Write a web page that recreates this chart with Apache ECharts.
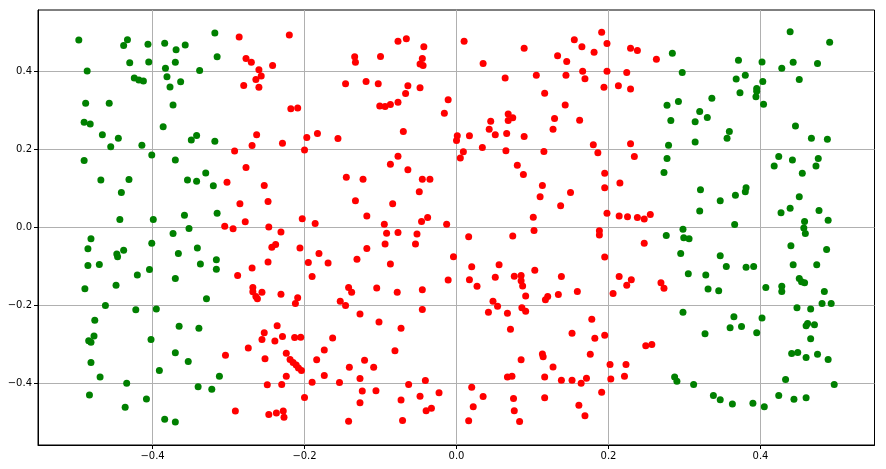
<!DOCTYPE html>
<html>
<head>
<meta charset="utf-8">
<script src="https://cdn.jsdelivr.net/npm/echarts@6/dist/echarts.min.js"></script>
<style>html,body{margin:0;padding:0;background:#fff;}#chart{width:886px;height:469px;}</style>
</head>
<body>
<div id="chart"></div>
<script>
const xTicks = [-0.4, -0.2, 0.0, 0.2, 0.4];
const yTicks = [-0.4, -0.2, 0.0, 0.2, 0.4];

const greenPoints = [
[-0.497,0.479],[-0.433,0.480],[-0.438,0.465],[-0.406,0.468],[-0.384,0.471],[-0.357,0.466],[-0.369,0.454],[-0.318,0.497],[-0.315,0.436],[-0.430,0.421],[-0.405,0.423],[-0.370,0.422],[-0.383,0.407],[-0.486,0.400],[-0.338,0.401],[-0.424,0.382],[-0.418,0.377],[-0.412,0.374],[-0.381,0.385],[-0.363,0.372],[-0.377,0.359],[-0.488,0.317],[-0.457,0.317],[-0.373,0.313],[-0.490,0.269],[-0.482,0.264],[-0.386,0.257],[-0.466,0.237],[-0.445,0.228],[-0.342,0.235],[-0.349,0.223],[-0.318,0.220],[-0.455,0.206],[-0.414,0.210],
[0.284,0.445],[0.297,0.396],[0.439,0.500],[0.491,0.473],[0.371,0.427],[0.402,0.423],[0.428,0.407],[0.443,0.422],[0.475,0.419],[0.380,0.389],[0.368,0.379],[0.403,0.373],[0.451,0.378],[0.395,0.355],[0.395,0.348],[0.394,0.334],[0.373,0.344],[0.404,0.315],[0.336,0.330],[0.292,0.322],[0.277,0.312],[0.320,0.296],[0.330,0.281],[0.314,0.270],[0.282,0.273],[0.359,0.245],[0.356,0.228],[0.446,0.259],[0.467,0.228],[0.488,0.225],[0.314,0.218],[0.279,0.210],
[-0.401,0.185],[-0.490,0.171],[-0.370,0.172],[-0.468,0.121],[-0.431,0.122],[-0.441,0.089],[-0.354,0.121],[-0.342,0.118],[-0.330,0.139],[-0.320,0.106],[-0.443,0.020],[-0.399,0.020],[-0.358,0.031],[-0.315,0.036],[-0.352,-0.003],[-0.373,-0.016],[-0.481,-0.029],[-0.485,-0.055],[-0.401,-0.041],[-0.447,-0.068],[-0.446,-0.075],[-0.438,-0.059],[-0.341,-0.053],[-0.366,-0.067],[-0.485,-0.098],[-0.470,-0.095],[-0.337,-0.094],[-0.316,-0.083],[-0.316,-0.107],[-0.404,-0.108],[-0.420,-0.122],[-0.370,-0.131],[-0.489,-0.157],[-0.448,-0.148],
[0.277,0.176],[0.273,0.140],[0.321,0.096],[0.347,0.068],[0.367,0.082],[0.381,0.101],[0.380,0.091],[0.320,0.042],[0.366,0.007],[0.298,-0.005],[0.276,-0.021],[0.299,-0.027],[0.306,-0.029],[0.295,-0.067],[0.347,-0.073],[0.355,-0.100],[0.381,-0.102],[0.391,-0.100],[0.305,-0.119],[0.328,-0.122],[0.331,-0.158],[0.345,-0.162],[0.424,0.181],[0.442,0.172],[0.476,0.176],[0.418,0.157],[0.473,0.157],[0.455,0.138],[0.451,0.078],[0.439,0.049],[0.427,0.037],[0.477,0.043],[0.489,0.018],[0.458,0.015],[0.457,-0.002],[0.459,-0.016],[0.440,-0.047],[0.487,-0.057],[0.443,-0.096],[0.474,-0.096],[0.451,-0.131],[0.454,-0.139],[0.458,-0.142],[0.407,-0.154],[0.428,-0.151],[0.428,-0.164],[0.484,-0.164],
[-0.329,-0.183],[-0.462,-0.200],[-0.422,-0.211],[-0.395,-0.209],[-0.476,-0.238],[-0.365,-0.253],[-0.339,-0.258],[-0.477,-0.278],[-0.484,-0.290],[-0.481,-0.294],[-0.402,-0.287],[-0.370,-0.321],[-0.353,-0.343],[-0.481,-0.346],[-0.391,-0.366],[-0.469,-0.383],[-0.434,-0.399],[-0.312,-0.381],[-0.340,-0.408],[-0.322,-0.414],[-0.483,-0.429],[-0.408,-0.439],[-0.436,-0.460],[-0.384,-0.491],[-0.370,-0.498],
[0.298,-0.217],[0.365,-0.229],[0.360,-0.257],[0.375,-0.254],[0.402,-0.232],[0.395,-0.270],[0.327,-0.272],[0.448,-0.206],[0.466,-0.209],[0.481,-0.195],[0.493,-0.195],[0.462,-0.246],[0.460,-0.252],[0.471,-0.249],[0.466,-0.285],[0.441,-0.323],[0.449,-0.320],[0.460,-0.333],[0.475,-0.325],[0.489,-0.338],[0.287,-0.383],[0.290,-0.394],[0.312,-0.402],[0.433,-0.389],[0.497,-0.402],[0.338,-0.430],[0.347,-0.441],[0.363,-0.452],[0.390,-0.450],[0.405,-0.459],[0.424,-0.430],[0.444,-0.440],[0.460,-0.436]
];

const redPoints = [
[-0.286,0.487],[-0.280,0.363],[-0.292,0.195],
[-0.220,0.492],[-0.277,0.432],[-0.270,0.422],[-0.242,0.414],[-0.260,0.403],[-0.257,0.387],[-0.264,0.378],[-0.260,0.358],[-0.218,0.303],[-0.209,0.305],[-0.263,0.237],[-0.269,0.209],[-0.229,0.215],[-0.197,0.230],[-0.183,0.240],[-0.156,0.227],[-0.200,0.198],[-0.134,0.436],[-0.133,0.422],[-0.100,0.437],[-0.077,0.476],[-0.066,0.482],[-0.043,0.462],[-0.045,0.432],[-0.048,0.418],[-0.044,0.414],[-0.146,0.367],[-0.119,0.373],[-0.103,0.367],[-0.064,0.362],[-0.067,0.342],[-0.048,0.357],[-0.101,0.310],[-0.094,0.309],[-0.087,0.314],[-0.077,0.320],[-0.070,0.245],[-0.016,0.292],
[-0.011,0.326],[0.010,0.476],[0.035,0.419],[0.089,0.458],[0.064,0.382],[0.105,0.389],[0.116,0.343],[0.133,0.439],[0.145,0.424],[0.155,0.480],[0.165,0.462],[0.181,0.448],[0.191,0.499],[0.198,0.470],[0.166,0.399],[0.169,0.380],[0.144,0.389],[0.198,0.399],[0.224,0.396],[0.194,0.358],[0.213,0.362],[0.229,0.354],[0.229,0.458],[0.238,0.452],[0.143,0.313],[0.129,0.278],[0.162,0.274],[0.127,0.251],[0.068,0.290],[0.068,0.273],[0.074,0.280],[0.045,0.271],[0.043,0.251],[0.051,0.237],[0.066,0.240],[0.089,0.232],[0.001,0.234],[0.000,0.222],[0.017,0.234],[0.034,0.204],[0.009,0.193],[0.065,0.196],[0.115,0.194],[0.180,0.211],[0.186,0.191],[0.229,0.214],
[0.263,0.430],
[-0.302,0.115],[-0.285,0.060],[-0.305,0.003],[-0.294,-0.004],[-0.288,-0.123],
[-0.277,0.153],[-0.253,0.107],[-0.248,0.066],[-0.278,0.014],[-0.247,0.001],[-0.231,-0.012],[-0.203,0.022],[-0.186,0.010],[-0.243,-0.051],[-0.238,-0.044],[-0.206,-0.053],[-0.181,-0.067],[-0.248,-0.089],[-0.269,-0.104],[-0.195,-0.090],[-0.169,-0.091],[-0.190,-0.126],[-0.268,-0.154],[-0.268,-0.165],[-0.256,-0.166],[-0.264,-0.177],[-0.231,-0.171],[-0.145,0.128],[-0.123,0.123],[-0.133,0.068],[-0.118,0.029],[-0.118,-0.054],[-0.131,-0.082],[-0.087,0.161],[-0.077,0.182],[-0.064,0.147],[-0.045,0.123],[-0.035,0.123],[-0.049,0.091],[-0.084,0.060],[-0.095,0.008],[-0.092,-0.015],[-0.077,-0.013],[-0.046,0.015],[-0.038,0.025],[-0.052,-0.017],[-0.054,-0.043],[-0.094,-0.043],[-0.087,-0.094],[-0.013,0.008],[-0.142,-0.154],[-0.138,-0.166],[-0.105,-0.155],[-0.078,-0.166],[-0.045,-0.160],
[0.005,0.177],[0.234,0.181],[0.080,0.159],[0.088,0.135],[0.113,0.107],[0.110,0.078],[0.150,0.089],[0.137,0.055],[0.195,0.138],[0.215,0.113],[0.195,0.101],[0.198,0.036],[0.214,0.029],[0.225,0.027],[0.238,0.025],[0.247,0.021],[0.255,0.033],[0.101,0.026],[0.102,-0.008],[0.074,-0.022],[0.016,-0.024],[0.188,-0.009],[0.188,-0.020],[0.247,-0.041],[0.195,-0.076],[-0.004,-0.075],[0.020,-0.101],[0.056,-0.096],[-0.011,-0.135],[0.017,-0.134],[0.027,-0.151],[0.051,-0.128],[0.076,-0.125],[0.085,-0.123],[0.085,-0.137],[0.087,-0.150],[0.103,-0.110],[0.138,-0.126],[0.159,-0.164],[0.134,-0.172],[0.091,-0.176],[0.120,-0.177],[0.206,-0.169],[0.214,-0.126],[0.230,-0.134],[0.224,-0.148],
[0.269,-0.142],[0.273,-0.156],
[-0.304,-0.327],[-0.291,-0.470],
[-0.262,-0.183],[-0.209,-0.180],[-0.212,-0.195],[-0.153,-0.189],[-0.146,-0.200],[-0.127,-0.222],[-0.102,-0.242],[-0.073,-0.258],[-0.045,-0.210],[-0.236,-0.252],[-0.253,-0.270],[-0.256,-0.287],[-0.239,-0.291],[-0.229,-0.279],[-0.213,-0.282],[-0.205,-0.281],[-0.163,-0.283],[-0.274,-0.309],[-0.252,-0.336],[-0.224,-0.322],[-0.219,-0.338],[-0.215,-0.346],[-0.211,-0.352],[-0.208,-0.360],[-0.204,-0.366],[-0.224,-0.381],[-0.249,-0.403],[-0.230,-0.402],[-0.184,-0.339],[-0.174,-0.314],[-0.174,-0.379],[-0.190,-0.396],[-0.154,-0.397],[-0.200,-0.435],[-0.141,-0.358],[-0.121,-0.340],[-0.109,-0.358],[-0.127,-0.387],[-0.124,-0.419],[-0.106,-0.418],[-0.127,-0.449],[-0.081,-0.316],[-0.063,-0.402],[-0.041,-0.392],[-0.023,-0.423],[-0.048,-0.432],[-0.073,-0.442],[-0.040,-0.469],[-0.033,-0.463],[-0.247,-0.479],[-0.237,-0.475],[-0.228,-0.470],[-0.227,-0.486],[-0.142,-0.496],[-0.071,-0.494],
[0.048,-0.189],[0.054,-0.202],[0.042,-0.217],[0.067,-0.220],[0.086,-0.206],[0.091,-0.215],[0.117,-0.185],[0.071,-0.261],[0.178,-0.235],[0.152,-0.271],[0.182,-0.284],[0.195,-0.276],[0.249,-0.303],[0.257,-0.300],[0.113,-0.324],[0.114,-0.331],[0.176,-0.325],[0.085,-0.339],[0.127,-0.357],[0.202,-0.351],[0.223,-0.351],[0.067,-0.383],[0.073,-0.381],[0.116,-0.383],[0.138,-0.391],[0.152,-0.391],[0.164,-0.399],[0.171,-0.386],[0.203,-0.388],[0.221,-0.381],[0.020,-0.409],[0.035,-0.433],[0.022,-0.459],[0.016,-0.495],[0.075,-0.438],[0.076,-0.469],[0.083,-0.497],[0.116,-0.436],[0.161,-0.455],[0.169,-0.482],[0.191,-0.422]
];

const fmt = v => (v < 0 ? '\u2212' : '') + Math.abs(v).toFixed(1);

function axisCommon(ticks, min, max) {
  return {
    type: 'value',
    min: min,
    max: max,
    axisLine: { show: true, onZero: false, lineStyle: { color: '#000', width: 1 } },
    axisTick: { show: true, customValues: ticks, length: 4, lineStyle: { color: '#000', width: 1 } },
    axisLabel: { customValues: ticks, formatter: fmt, color: '#000', fontSize: 10, fontFamily: 'DejaVu Sans', margin: 6 },
    splitLine: { show: true, lineStyle: { color: '#b0b0b0', width: 1 } }
  };
}

const chart = echarts.init(document.getElementById('chart'), null, { renderer: 'canvas' });
chart.setOption({
  animation: false,
  backgroundColor: '#fff',
  grid: { left: 38, right: 11.5, top: 10, bottom: 24, show: true, borderColor: '#000', borderWidth: 1, backgroundColor: '#fff' },
  xAxis: axisCommon(xTicks, -0.5507, 0.55),
  yAxis: axisCommon(yTicks, -0.5568, 0.5558),
  series: [
    { type: 'scatter', data: greenPoints, symbolSize: 7, itemStyle: { color: '#008000', opacity: 1 } },
    { type: 'scatter', data: redPoints, symbolSize: 7, itemStyle: { color: '#ff0000', opacity: 1 } }
  ]
});
</script>
</body>
</html>
